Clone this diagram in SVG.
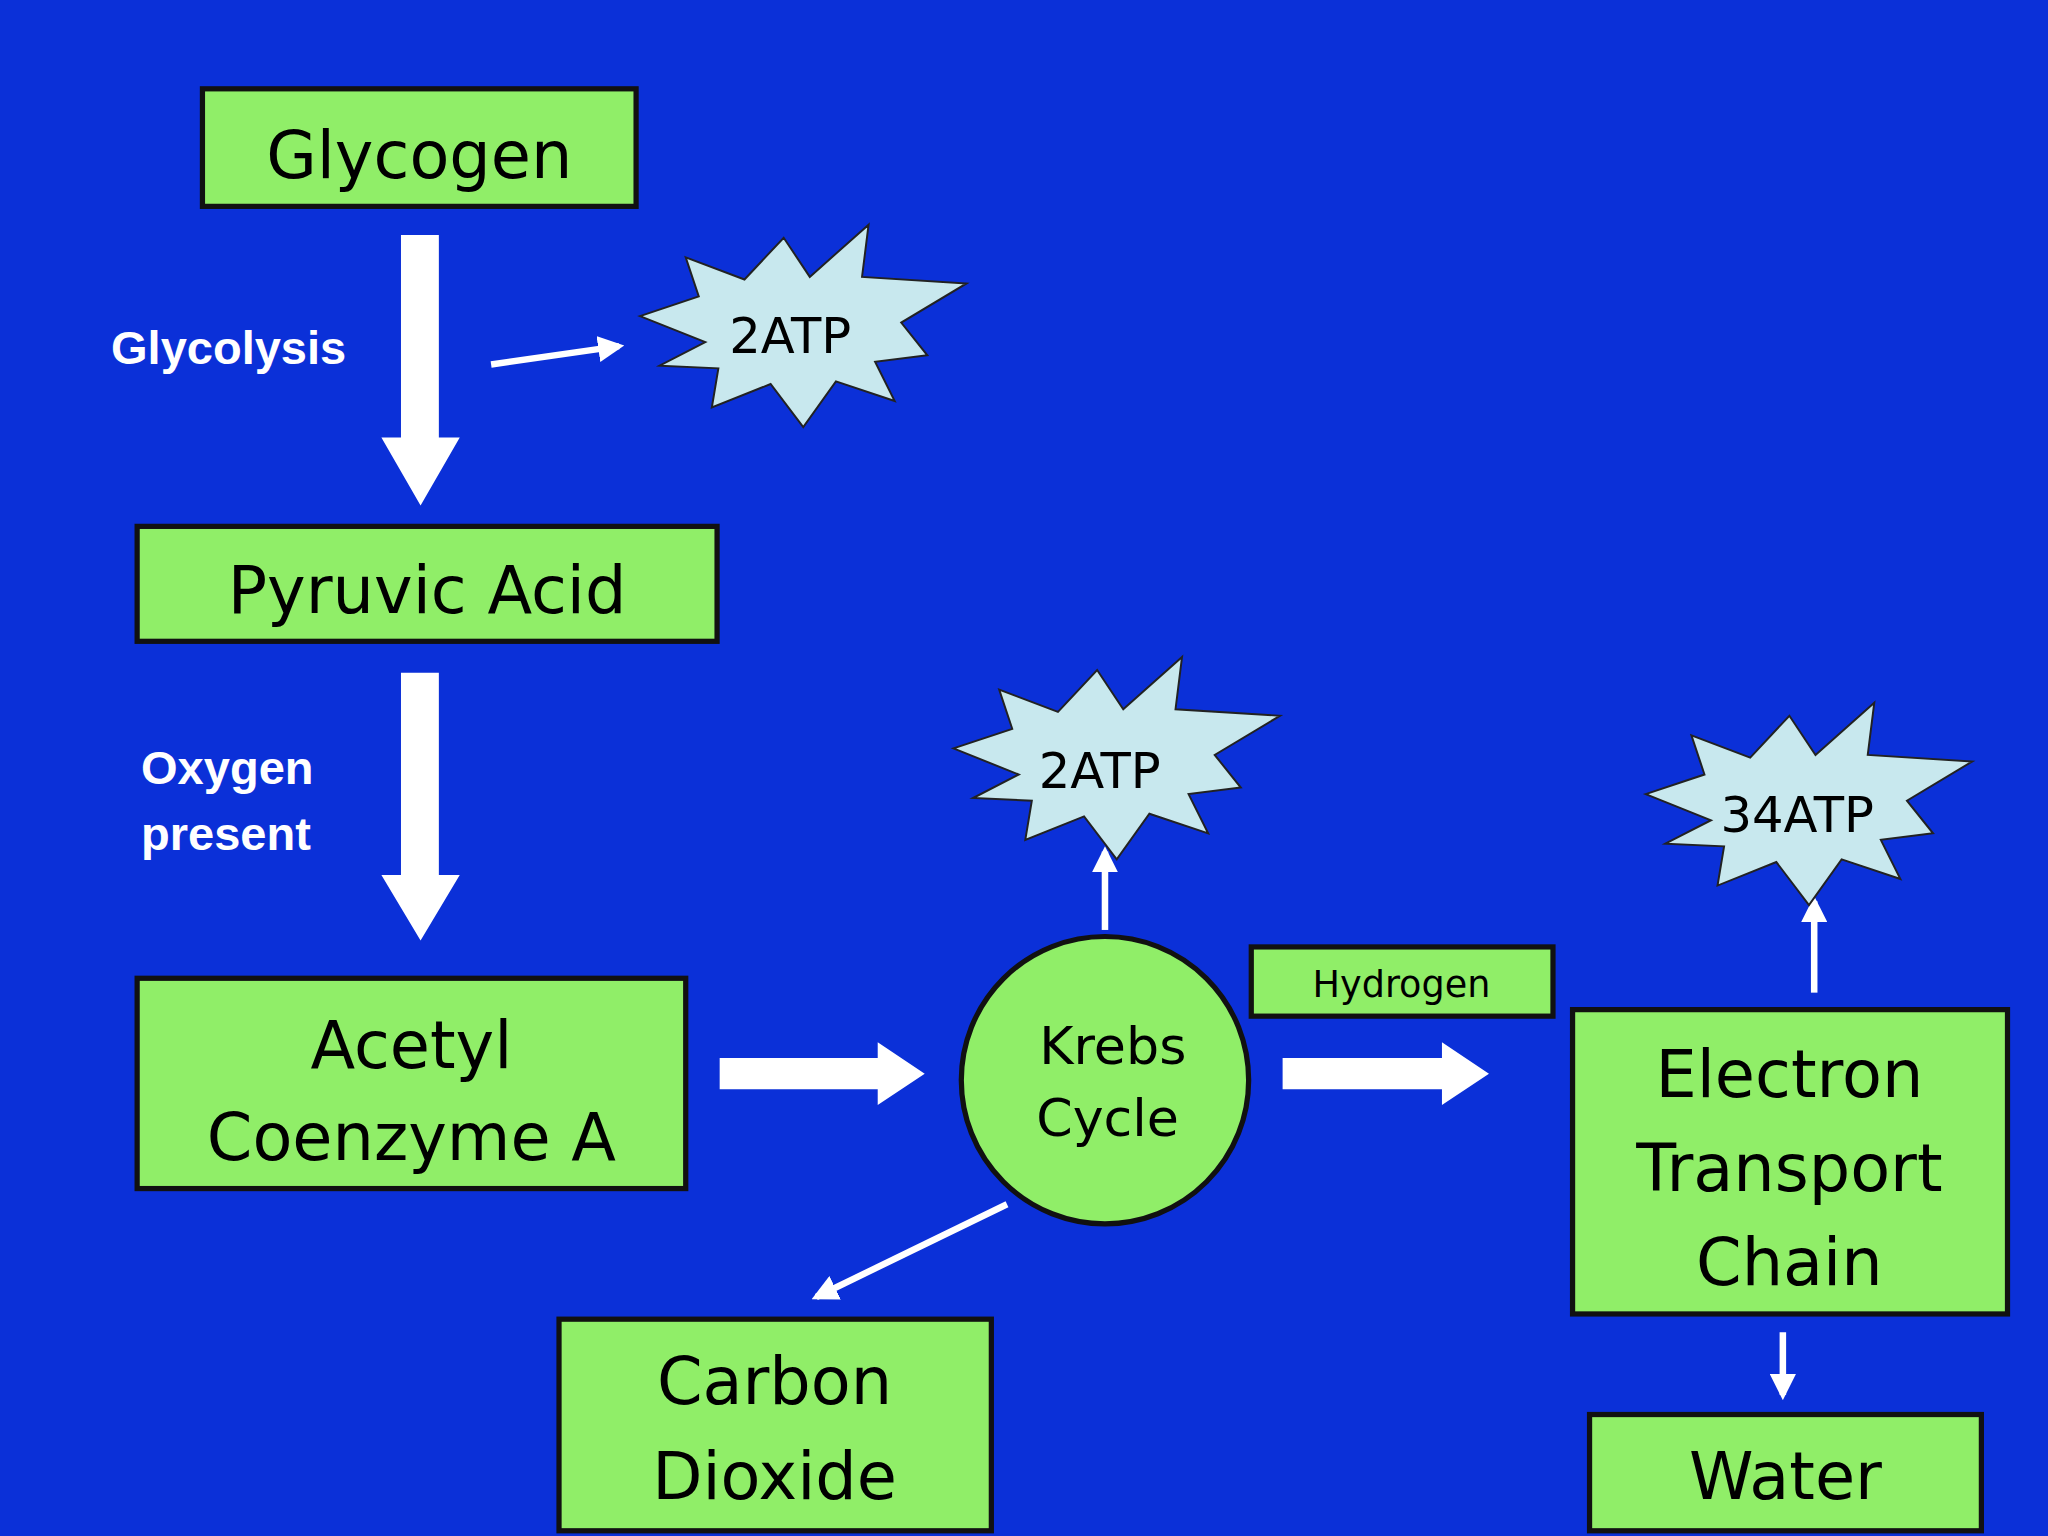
<svg xmlns="http://www.w3.org/2000/svg" width="2048" height="1536" viewBox="0 0 2048 1536">
<style>
.box{fill:#90ee68;stroke:#111;stroke-width:4}
.t{font-family:"DejaVu Sans",sans-serif;fill:#000;text-anchor:middle}
.lbl{font-family:"Liberation Sans",Arial,sans-serif;font-weight:bold;fill:#fff;font-size:36px}
.star{fill:#c8e8ee;stroke:#222;stroke-width:1.5}
.big{fill:#fff}
.thin{stroke:#fff;stroke-width:5;fill:none}
</style>
<defs>
<path id="star" d="M-120,-10 L-75,-25 L-85,-55 L-40,-38 L-10,-70 L10,-40 L55,-80 L50,-40 L130,-35 L80,-5 L100,20 L60,25 L75,55 L30,40 L5,75 L-20,42 L-65,60 L-60,30 L-105,28 L-70,10 Z"/>
<marker id="ah" viewBox="0 0 10 10" refX="8" refY="5" markerWidth="4" markerHeight="4" orient="auto"><path d="M0,0 L10,5 L0,10 Z" fill="#fff"/></marker>
</defs>
<rect width="2048" height="1536" fill="#0b30d8"/>
<g transform="scale(1.30612)">
<g id="connectors">
<path class="big" d="M307,180 H336 V335 H352 L322,387 L292,335 H307 Z"/>
<path class="big" d="M307,515 H336 V670 H352 L322,720 L292,670 H307 Z"/>
<path class="big" d="M551,810 H672 V798 L708,822 L672,846 V834 H551 Z"/>
<path class="big" d="M982,810 H1104 V798 L1140,822 L1104,846 V834 H982 Z"/>
<line class="thin" x1="376" y1="279" x2="474" y2="265" marker-end="url(#ah)"/>
<line class="thin" x1="846" y1="712" x2="846" y2="652" marker-end="url(#ah)"/>
<line class="thin" x1="1389" y1="760" x2="1389" y2="690" marker-end="url(#ah)"/>
<line class="thin" x1="1365" y1="1020" x2="1365" y2="1068" marker-end="url(#ah)"/>
<line class="thin" x1="771" y1="922" x2="625" y2="993" marker-end="url(#ah)"/>
</g>
<text class="lbl" x="85" y="279">Glycolysis</text>
<text class="lbl" x="108" y="600">Oxygen</text>
<text class="lbl" x="108" y="651">present</text>
<g id="glycogen"><rect class="box" x="155" y="68" width="332" height="90"/><text class="t" x="321" y="136" font-size="50">Glycogen</text></g>
<g id="pyruvic"><rect class="box" x="105" y="403" width="444" height="88"/><text class="t" x="327" y="469" font-size="50">Pyruvic Acid</text></g>
<g id="acetyl"><rect class="box" x="105" y="749" width="420" height="161"/><text class="t" x="315" y="818" font-size="50">Acetyl</text><text class="t" x="315" y="888" font-size="50">Coenzyme A</text></g>
<g id="co2"><rect class="box" x="428" y="1010" width="331" height="162"/><text class="t" x="593" y="1075" font-size="50">Carbon</text><text class="t" x="593" y="1148" font-size="50">Dioxide</text></g>
<g id="etc"><rect class="box" x="1204" y="773" width="333" height="233"/><text class="t" x="1370" y="840" font-size="50">Electron</text><text class="t" x="1370" y="912" font-size="50">Transport</text><text class="t" x="1370" y="984" font-size="50">Chain</text></g>
<g id="water"><rect class="box" x="1217" y="1083" width="300" height="89"/><text class="t" x="1367" y="1148" font-size="50">Water</text></g>
<g id="hydrogen"><rect class="box" x="958" y="725" width="231" height="53"/><text class="t" x="1073" y="763" font-size="28">Hydrogen</text></g>
<g id="krebs"><circle class="box" cx="846" cy="827" r="110"/><text class="t" x="852" y="815" font-size="40">Krebs</text><text class="t" x="848" y="870" font-size="40">Cycle</text></g>
<g id="atp1"><use href="#star" class="star" transform="translate(610,252)"/><text class="t" x="605" y="270" font-size="38">2ATP</text></g>
<g id="atp2"><use href="#star" class="star" transform="translate(850,583)"/><text class="t" x="842" y="603" font-size="38">2ATP</text></g>
<g id="atp3"><use href="#star" class="star" transform="translate(1380,618)"/><text class="t" x="1376" y="637" font-size="38">34ATP</text></g>
</g>
</svg>
